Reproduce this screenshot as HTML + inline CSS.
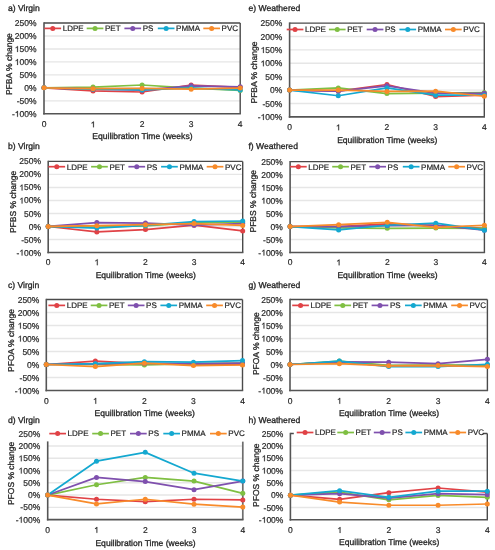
<!DOCTYPE html>
<html><head><meta charset="utf-8"><style>
html,body{margin:0;padding:0;background:#fff;width:495px;height:550px;overflow:hidden;position:relative}
svg text{text-rendering:geometricPrecision;font-family:"Liberation Sans", sans-serif;fill:#262626;stroke:#262626;stroke-width:0.2px}
</style></head><body>
<svg width="495" height="550" viewBox="0 0 495 550" style="position:absolute;left:0;top:0;will-change:transform;filter:blur(0.3px)">
<text x="7.90" y="10.76" font-size="8.6" style="stroke-width:0.3px">a) Virgin</text>
<text transform="translate(11.50,64.10) rotate(-90)" x="0" y="0" text-anchor="middle" font-size="8.5" style="stroke-width:0.3px">PFBA % change</text>
<line x1="44.00" y1="35.97" x2="240.20" y2="35.97" stroke="#e6e6e6" stroke-width="1.4"/>
<line x1="44.00" y1="48.94" x2="240.20" y2="48.94" stroke="#e6e6e6" stroke-width="1.4"/>
<line x1="44.00" y1="61.91" x2="240.20" y2="61.91" stroke="#e6e6e6" stroke-width="1.4"/>
<line x1="44.00" y1="74.89" x2="240.20" y2="74.89" stroke="#e6e6e6" stroke-width="1.4"/>
<line x1="44.00" y1="87.86" x2="240.20" y2="87.86" stroke="#e6e6e6" stroke-width="1.4"/>
<line x1="44.00" y1="100.83" x2="240.20" y2="100.83" stroke="#e6e6e6" stroke-width="1.4"/>
<text x="14.76" y="26.04" font-size="8.5">250%</text>
<text x="14.76" y="39.01" font-size="8.5">200%</text>
<path transform="translate(14.76,51.99) scale(0.00415,-0.00415)" d="M763,0 L583,0 L583,1130 C540,1090 482,1050 412,1010 C342,970 279,940 223,920 L223,1090 C324,1138 412,1195 487,1262 C562,1329 615,1380 646,1409 L763,1409 Z" fill="#262626" stroke="#262626" stroke-width="0.2" vector-effect="non-scaling-stroke"/>
<text x="19.49" y="51.99" font-size="8.5">50%</text>
<path transform="translate(14.76,64.96) scale(0.00415,-0.00415)" d="M763,0 L583,0 L583,1130 C540,1090 482,1050 412,1010 C342,970 279,940 223,920 L223,1090 C324,1138 412,1195 487,1262 C562,1329 615,1380 646,1409 L763,1409 Z" fill="#262626" stroke="#262626" stroke-width="0.2" vector-effect="non-scaling-stroke"/>
<text x="19.49" y="64.96" font-size="8.5">00%</text>
<text x="19.49" y="77.93" font-size="8.5">50%</text>
<text x="24.21" y="90.90" font-size="8.5">0%</text>
<text x="16.66" y="103.87" font-size="8.5">-50%</text>
<text x="11.93" y="116.84" font-size="8.5">-</text>
<path transform="translate(14.76,116.84) scale(0.00415,-0.00415)" d="M763,0 L583,0 L583,1130 C540,1090 482,1050 412,1010 C342,970 279,940 223,920 L223,1090 C324,1138 412,1195 487,1262 C562,1329 615,1380 646,1409 L763,1409 Z" fill="#262626" stroke="#262626" stroke-width="0.2" vector-effect="non-scaling-stroke"/>
<text x="19.49" y="116.84" font-size="8.5">00%</text>
<line x1="44.00" y1="23.00" x2="240.20" y2="23.00" stroke="#4a4a4a" stroke-width="1.4"/>
<line x1="240.20" y1="23.00" x2="240.20" y2="113.80" stroke="#4a4a4a" stroke-width="1.4"/>
<line x1="44.00" y1="22.30" x2="44.00" y2="114.60" stroke="#555" stroke-width="1.6"/>
<line x1="43.20" y1="113.80" x2="240.90" y2="113.80" stroke="#555" stroke-width="1.6"/>
<polyline points="44.00,87.86 93.05,90.97 142.10,92.01 191.15,85.00 240.20,87.34" fill="none" stroke="#e04246" stroke-width="1.7" stroke-linejoin="round"/>
<circle cx="44.00" cy="87.86" r="2.5" fill="#e04246"/>
<circle cx="93.05" cy="90.97" r="2.5" fill="#e04246"/>
<circle cx="142.10" cy="92.01" r="2.5" fill="#e04246"/>
<circle cx="191.15" cy="85.00" r="2.5" fill="#e04246"/>
<circle cx="240.20" cy="87.34" r="2.5" fill="#e04246"/>
<polyline points="44.00,87.86 93.05,87.08 142.10,85.00 191.15,88.12 240.20,90.45" fill="none" stroke="#7fbf42" stroke-width="1.7" stroke-linejoin="round"/>
<circle cx="44.00" cy="87.86" r="2.5" fill="#7fbf42"/>
<circle cx="93.05" cy="87.08" r="2.5" fill="#7fbf42"/>
<circle cx="142.10" cy="85.00" r="2.5" fill="#7fbf42"/>
<circle cx="191.15" cy="88.12" r="2.5" fill="#7fbf42"/>
<circle cx="240.20" cy="90.45" r="2.5" fill="#7fbf42"/>
<polyline points="44.00,87.86 93.05,88.89 142.10,90.19 191.15,85.78 240.20,86.82" fill="none" stroke="#7f50ae" stroke-width="1.7" stroke-linejoin="round"/>
<circle cx="44.00" cy="87.86" r="2.5" fill="#7f50ae"/>
<circle cx="93.05" cy="88.89" r="2.5" fill="#7f50ae"/>
<circle cx="142.10" cy="90.19" r="2.5" fill="#7f50ae"/>
<circle cx="191.15" cy="85.78" r="2.5" fill="#7f50ae"/>
<circle cx="240.20" cy="86.82" r="2.5" fill="#7f50ae"/>
<polyline points="44.00,87.86 93.05,89.15 142.10,89.93 191.15,88.12 240.20,89.93" fill="none" stroke="#14a8d0" stroke-width="1.7" stroke-linejoin="round"/>
<circle cx="44.00" cy="87.86" r="2.5" fill="#14a8d0"/>
<circle cx="93.05" cy="89.15" r="2.5" fill="#14a8d0"/>
<circle cx="142.10" cy="89.93" r="2.5" fill="#14a8d0"/>
<circle cx="191.15" cy="88.12" r="2.5" fill="#14a8d0"/>
<circle cx="240.20" cy="89.93" r="2.5" fill="#14a8d0"/>
<polyline points="44.00,87.86 93.05,88.64 142.10,88.38 191.15,89.15 240.20,88.12" fill="none" stroke="#f88b2a" stroke-width="1.7" stroke-linejoin="round"/>
<circle cx="44.00" cy="87.86" r="2.5" fill="#f88b2a"/>
<circle cx="93.05" cy="88.64" r="2.5" fill="#f88b2a"/>
<circle cx="142.10" cy="88.38" r="2.5" fill="#f88b2a"/>
<circle cx="191.15" cy="89.15" r="2.5" fill="#f88b2a"/>
<circle cx="240.20" cy="88.12" r="2.5" fill="#f88b2a"/>
<text x="41.64" y="127.34" font-size="8.5">0</text>
<path transform="translate(90.69,127.34) scale(0.00415,-0.00415)" d="M763,0 L583,0 L583,1130 C540,1090 482,1050 412,1010 C342,970 279,940 223,920 L223,1090 C324,1138 412,1195 487,1262 C562,1329 615,1380 646,1409 L763,1409 Z" fill="#262626" stroke="#262626" stroke-width="0.2" vector-effect="non-scaling-stroke"/>
<text x="139.74" y="127.34" font-size="8.5">2</text>
<text x="188.79" y="127.34" font-size="8.5">3</text>
<text x="237.84" y="127.34" font-size="8.5">4</text>
<text x="142.40" y="139.12" text-anchor="middle" font-size="8.55" style="stroke-width:0.3px">Equilibration Time (weeks)</text>
<line x1="44.40" y1="28.40" x2="61.10" y2="28.40" stroke="#e04246" stroke-width="1.7"/>
<circle cx="52.75" cy="28.40" r="2.5" fill="#e04246"/>
<text x="62.70" y="31.26" font-size="8.0">LDPE</text>
<line x1="86.70" y1="28.40" x2="103.40" y2="28.40" stroke="#7fbf42" stroke-width="1.7"/>
<circle cx="95.05" cy="28.40" r="2.5" fill="#7fbf42"/>
<text x="105.00" y="31.26" font-size="8.0">PET</text>
<line x1="124.40" y1="28.40" x2="141.10" y2="28.40" stroke="#7f50ae" stroke-width="1.7"/>
<circle cx="132.75" cy="28.40" r="2.5" fill="#7f50ae"/>
<text x="142.70" y="31.26" font-size="8.0">PS</text>
<line x1="157.80" y1="28.40" x2="174.50" y2="28.40" stroke="#14a8d0" stroke-width="1.7"/>
<circle cx="166.15" cy="28.40" r="2.5" fill="#14a8d0"/>
<text x="176.10" y="31.26" font-size="8.0">PMMA</text>
<line x1="203.30" y1="28.40" x2="220.00" y2="28.40" stroke="#f88b2a" stroke-width="1.7"/>
<circle cx="211.65" cy="28.40" r="2.5" fill="#f88b2a"/>
<text x="221.60" y="31.26" font-size="8.0">PVC</text>
<text x="7.90" y="149.06" font-size="8.6" style="stroke-width:0.3px">b) Virgin</text>
<text transform="translate(16.40,201.90) rotate(-90)" x="0" y="0" text-anchor="middle" font-size="8.5" style="stroke-width:0.3px">PFBS % change</text>
<line x1="48.20" y1="174.41" x2="242.70" y2="174.41" stroke="#e6e6e6" stroke-width="1.4"/>
<line x1="48.20" y1="187.43" x2="242.70" y2="187.43" stroke="#e6e6e6" stroke-width="1.4"/>
<line x1="48.20" y1="200.44" x2="242.70" y2="200.44" stroke="#e6e6e6" stroke-width="1.4"/>
<line x1="48.20" y1="213.46" x2="242.70" y2="213.46" stroke="#e6e6e6" stroke-width="1.4"/>
<line x1="48.20" y1="226.47" x2="242.70" y2="226.47" stroke="#e6e6e6" stroke-width="1.4"/>
<line x1="48.20" y1="239.49" x2="242.70" y2="239.49" stroke="#e6e6e6" stroke-width="1.4"/>
<text x="19.26" y="164.44" font-size="8.5">250%</text>
<text x="19.26" y="177.46" font-size="8.5">200%</text>
<path transform="translate(19.26,190.47) scale(0.00415,-0.00415)" d="M763,0 L583,0 L583,1130 C540,1090 482,1050 412,1010 C342,970 279,940 223,920 L223,1090 C324,1138 412,1195 487,1262 C562,1329 615,1380 646,1409 L763,1409 Z" fill="#262626" stroke="#262626" stroke-width="0.2" vector-effect="non-scaling-stroke"/>
<text x="23.99" y="190.47" font-size="8.5">50%</text>
<path transform="translate(19.26,203.49) scale(0.00415,-0.00415)" d="M763,0 L583,0 L583,1130 C540,1090 482,1050 412,1010 C342,970 279,940 223,920 L223,1090 C324,1138 412,1195 487,1262 C562,1329 615,1380 646,1409 L763,1409 Z" fill="#262626" stroke="#262626" stroke-width="0.2" vector-effect="non-scaling-stroke"/>
<text x="23.99" y="203.49" font-size="8.5">00%</text>
<text x="23.99" y="216.50" font-size="8.5">50%</text>
<text x="28.71" y="229.51" font-size="8.5">0%</text>
<text x="21.16" y="242.53" font-size="8.5">-50%</text>
<text x="16.43" y="255.54" font-size="8.5">-</text>
<path transform="translate(19.26,255.54) scale(0.00415,-0.00415)" d="M763,0 L583,0 L583,1130 C540,1090 482,1050 412,1010 C342,970 279,940 223,920 L223,1090 C324,1138 412,1195 487,1262 C562,1329 615,1380 646,1409 L763,1409 Z" fill="#262626" stroke="#262626" stroke-width="0.2" vector-effect="non-scaling-stroke"/>
<text x="23.99" y="255.54" font-size="8.5">00%</text>
<line x1="48.20" y1="161.40" x2="242.70" y2="161.40" stroke="#4a4a4a" stroke-width="1.4"/>
<line x1="242.70" y1="161.40" x2="242.70" y2="252.50" stroke="#4a4a4a" stroke-width="1.4"/>
<line x1="48.20" y1="160.70" x2="48.20" y2="253.30" stroke="#555" stroke-width="1.6"/>
<line x1="47.40" y1="252.50" x2="243.40" y2="252.50" stroke="#555" stroke-width="1.6"/>
<polyline points="48.20,226.47 96.83,231.94 145.45,229.59 194.07,225.17 242.70,230.90" fill="none" stroke="#e04246" stroke-width="1.7" stroke-linejoin="round"/>
<circle cx="48.20" cy="226.47" r="2.5" fill="#e04246"/>
<circle cx="96.83" cy="231.94" r="2.5" fill="#e04246"/>
<circle cx="145.45" cy="229.59" r="2.5" fill="#e04246"/>
<circle cx="194.07" cy="225.17" r="2.5" fill="#e04246"/>
<circle cx="242.70" cy="230.90" r="2.5" fill="#e04246"/>
<polyline points="48.20,226.47 96.83,226.99 145.45,225.95 194.07,222.57 242.70,222.05" fill="none" stroke="#7fbf42" stroke-width="1.7" stroke-linejoin="round"/>
<circle cx="48.20" cy="226.47" r="2.5" fill="#7fbf42"/>
<circle cx="96.83" cy="226.99" r="2.5" fill="#7fbf42"/>
<circle cx="145.45" cy="225.95" r="2.5" fill="#7fbf42"/>
<circle cx="194.07" cy="222.57" r="2.5" fill="#7fbf42"/>
<circle cx="242.70" cy="222.05" r="2.5" fill="#7fbf42"/>
<polyline points="48.20,226.47 96.83,222.57 145.45,223.09 194.07,225.17 242.70,223.61" fill="none" stroke="#7f50ae" stroke-width="1.7" stroke-linejoin="round"/>
<circle cx="48.20" cy="226.47" r="2.5" fill="#7f50ae"/>
<circle cx="96.83" cy="222.57" r="2.5" fill="#7f50ae"/>
<circle cx="145.45" cy="223.09" r="2.5" fill="#7f50ae"/>
<circle cx="194.07" cy="225.17" r="2.5" fill="#7f50ae"/>
<circle cx="242.70" cy="223.61" r="2.5" fill="#7f50ae"/>
<polyline points="48.20,226.47 96.83,228.03 145.45,225.43 194.07,221.53 242.70,221.01" fill="none" stroke="#14a8d0" stroke-width="1.7" stroke-linejoin="round"/>
<circle cx="48.20" cy="226.47" r="2.5" fill="#14a8d0"/>
<circle cx="96.83" cy="228.03" r="2.5" fill="#14a8d0"/>
<circle cx="145.45" cy="225.43" r="2.5" fill="#14a8d0"/>
<circle cx="194.07" cy="221.53" r="2.5" fill="#14a8d0"/>
<circle cx="242.70" cy="221.01" r="2.5" fill="#14a8d0"/>
<polyline points="48.20,226.47 96.83,225.69 145.45,224.65 194.07,223.61 242.70,225.43" fill="none" stroke="#f88b2a" stroke-width="1.7" stroke-linejoin="round"/>
<circle cx="48.20" cy="226.47" r="2.5" fill="#f88b2a"/>
<circle cx="96.83" cy="225.69" r="2.5" fill="#f88b2a"/>
<circle cx="145.45" cy="224.65" r="2.5" fill="#f88b2a"/>
<circle cx="194.07" cy="223.61" r="2.5" fill="#f88b2a"/>
<circle cx="242.70" cy="225.43" r="2.5" fill="#f88b2a"/>
<text x="45.84" y="265.14" font-size="8.5">0</text>
<path transform="translate(94.46,265.14) scale(0.00415,-0.00415)" d="M763,0 L583,0 L583,1130 C540,1090 482,1050 412,1010 C342,970 279,940 223,920 L223,1090 C324,1138 412,1195 487,1262 C562,1329 615,1380 646,1409 L763,1409 Z" fill="#262626" stroke="#262626" stroke-width="0.2" vector-effect="non-scaling-stroke"/>
<text x="143.09" y="265.14" font-size="8.5">2</text>
<text x="191.71" y="265.14" font-size="8.5">3</text>
<text x="240.34" y="265.14" font-size="8.5">4</text>
<text x="145.75" y="278.22" text-anchor="middle" font-size="8.55" style="stroke-width:0.3px">Equilibration Time (weeks)</text>
<line x1="48.40" y1="166.70" x2="65.10" y2="166.70" stroke="#e04246" stroke-width="1.7"/>
<circle cx="56.75" cy="166.70" r="2.5" fill="#e04246"/>
<text x="66.70" y="169.56" font-size="8.0">LDPE</text>
<line x1="91.10" y1="166.70" x2="107.80" y2="166.70" stroke="#7fbf42" stroke-width="1.7"/>
<circle cx="99.45" cy="166.70" r="2.5" fill="#7fbf42"/>
<text x="109.40" y="169.56" font-size="8.0">PET</text>
<line x1="128.40" y1="166.70" x2="145.10" y2="166.70" stroke="#7f50ae" stroke-width="1.7"/>
<circle cx="136.75" cy="166.70" r="2.5" fill="#7f50ae"/>
<text x="146.70" y="169.56" font-size="8.0">PS</text>
<line x1="161.10" y1="166.70" x2="177.80" y2="166.70" stroke="#14a8d0" stroke-width="1.7"/>
<circle cx="169.45" cy="166.70" r="2.5" fill="#14a8d0"/>
<text x="179.40" y="169.56" font-size="8.0">PMMA</text>
<line x1="206.70" y1="166.70" x2="223.40" y2="166.70" stroke="#f88b2a" stroke-width="1.7"/>
<circle cx="215.05" cy="166.70" r="2.5" fill="#f88b2a"/>
<text x="225.00" y="169.56" font-size="8.0">PVC</text>
<text x="7.90" y="287.56" font-size="8.6" style="stroke-width:0.3px">c) Virgin</text>
<text transform="translate(14.00,340.50) rotate(-90)" x="0" y="0" text-anchor="middle" font-size="8.5" style="stroke-width:0.3px">PFOA % change</text>
<line x1="46.30" y1="312.50" x2="242.50" y2="312.50" stroke="#e6e6e6" stroke-width="1.4"/>
<line x1="46.30" y1="325.50" x2="242.50" y2="325.50" stroke="#e6e6e6" stroke-width="1.4"/>
<line x1="46.30" y1="338.50" x2="242.50" y2="338.50" stroke="#e6e6e6" stroke-width="1.4"/>
<line x1="46.30" y1="351.50" x2="242.50" y2="351.50" stroke="#e6e6e6" stroke-width="1.4"/>
<line x1="46.30" y1="364.50" x2="242.50" y2="364.50" stroke="#e6e6e6" stroke-width="1.4"/>
<line x1="46.30" y1="377.50" x2="242.50" y2="377.50" stroke="#e6e6e6" stroke-width="1.4"/>
<text x="17.66" y="302.54" font-size="8.5">250%</text>
<text x="17.66" y="315.54" font-size="8.5">200%</text>
<path transform="translate(17.66,328.54) scale(0.00415,-0.00415)" d="M763,0 L583,0 L583,1130 C540,1090 482,1050 412,1010 C342,970 279,940 223,920 L223,1090 C324,1138 412,1195 487,1262 C562,1329 615,1380 646,1409 L763,1409 Z" fill="#262626" stroke="#262626" stroke-width="0.2" vector-effect="non-scaling-stroke"/>
<text x="22.39" y="328.54" font-size="8.5">50%</text>
<path transform="translate(17.66,341.54) scale(0.00415,-0.00415)" d="M763,0 L583,0 L583,1130 C540,1090 482,1050 412,1010 C342,970 279,940 223,920 L223,1090 C324,1138 412,1195 487,1262 C562,1329 615,1380 646,1409 L763,1409 Z" fill="#262626" stroke="#262626" stroke-width="0.2" vector-effect="non-scaling-stroke"/>
<text x="22.39" y="341.54" font-size="8.5">00%</text>
<text x="22.39" y="354.54" font-size="8.5">50%</text>
<text x="27.11" y="367.54" font-size="8.5">0%</text>
<text x="19.56" y="380.54" font-size="8.5">-50%</text>
<text x="14.83" y="393.54" font-size="8.5">-</text>
<path transform="translate(17.66,393.54) scale(0.00415,-0.00415)" d="M763,0 L583,0 L583,1130 C540,1090 482,1050 412,1010 C342,970 279,940 223,920 L223,1090 C324,1138 412,1195 487,1262 C562,1329 615,1380 646,1409 L763,1409 Z" fill="#262626" stroke="#262626" stroke-width="0.2" vector-effect="non-scaling-stroke"/>
<text x="22.39" y="393.54" font-size="8.5">00%</text>
<line x1="46.30" y1="299.50" x2="242.50" y2="299.50" stroke="#4a4a4a" stroke-width="1.4"/>
<line x1="242.50" y1="299.50" x2="242.50" y2="390.50" stroke="#4a4a4a" stroke-width="1.4"/>
<line x1="46.30" y1="298.80" x2="46.30" y2="391.30" stroke="#555" stroke-width="1.6"/>
<line x1="45.50" y1="390.50" x2="243.20" y2="390.50" stroke="#555" stroke-width="1.6"/>
<polyline points="46.30,364.50 95.35,361.12 144.40,363.72 193.45,364.50 242.50,364.50" fill="none" stroke="#e04246" stroke-width="1.7" stroke-linejoin="round"/>
<circle cx="46.30" cy="364.50" r="2.5" fill="#e04246"/>
<circle cx="95.35" cy="361.12" r="2.5" fill="#e04246"/>
<circle cx="144.40" cy="363.72" r="2.5" fill="#e04246"/>
<circle cx="193.45" cy="364.50" r="2.5" fill="#e04246"/>
<circle cx="242.50" cy="364.50" r="2.5" fill="#e04246"/>
<polyline points="46.30,364.50 95.35,364.50 144.40,365.02 193.45,363.72 242.50,363.20" fill="none" stroke="#7fbf42" stroke-width="1.7" stroke-linejoin="round"/>
<circle cx="46.30" cy="364.50" r="2.5" fill="#7fbf42"/>
<circle cx="95.35" cy="364.50" r="2.5" fill="#7fbf42"/>
<circle cx="144.40" cy="365.02" r="2.5" fill="#7fbf42"/>
<circle cx="193.45" cy="363.72" r="2.5" fill="#7fbf42"/>
<circle cx="242.50" cy="363.20" r="2.5" fill="#7fbf42"/>
<polyline points="46.30,364.50 95.35,363.98 144.40,363.46 193.45,363.72 242.50,363.20" fill="none" stroke="#7f50ae" stroke-width="1.7" stroke-linejoin="round"/>
<circle cx="46.30" cy="364.50" r="2.5" fill="#7f50ae"/>
<circle cx="95.35" cy="363.98" r="2.5" fill="#7f50ae"/>
<circle cx="144.40" cy="363.46" r="2.5" fill="#7f50ae"/>
<circle cx="193.45" cy="363.72" r="2.5" fill="#7f50ae"/>
<circle cx="242.50" cy="363.20" r="2.5" fill="#7f50ae"/>
<polyline points="46.30,364.50 95.35,363.72 144.40,361.64 193.45,362.16 242.50,360.60" fill="none" stroke="#14a8d0" stroke-width="1.7" stroke-linejoin="round"/>
<circle cx="46.30" cy="364.50" r="2.5" fill="#14a8d0"/>
<circle cx="95.35" cy="363.72" r="2.5" fill="#14a8d0"/>
<circle cx="144.40" cy="361.64" r="2.5" fill="#14a8d0"/>
<circle cx="193.45" cy="362.16" r="2.5" fill="#14a8d0"/>
<circle cx="242.50" cy="360.60" r="2.5" fill="#14a8d0"/>
<polyline points="46.30,364.50 95.35,366.58 144.40,363.20 193.45,365.54 242.50,365.02" fill="none" stroke="#f88b2a" stroke-width="1.7" stroke-linejoin="round"/>
<circle cx="46.30" cy="364.50" r="2.5" fill="#f88b2a"/>
<circle cx="95.35" cy="366.58" r="2.5" fill="#f88b2a"/>
<circle cx="144.40" cy="363.20" r="2.5" fill="#f88b2a"/>
<circle cx="193.45" cy="365.54" r="2.5" fill="#f88b2a"/>
<circle cx="242.50" cy="365.02" r="2.5" fill="#f88b2a"/>
<text x="43.94" y="403.74" font-size="8.5">0</text>
<path transform="translate(92.99,403.74) scale(0.00415,-0.00415)" d="M763,0 L583,0 L583,1130 C540,1090 482,1050 412,1010 C342,970 279,940 223,920 L223,1090 C324,1138 412,1195 487,1262 C562,1329 615,1380 646,1409 L763,1409 Z" fill="#262626" stroke="#262626" stroke-width="0.2" vector-effect="non-scaling-stroke"/>
<text x="142.04" y="403.74" font-size="8.5">2</text>
<text x="191.09" y="403.74" font-size="8.5">3</text>
<text x="240.14" y="403.74" font-size="8.5">4</text>
<text x="144.70" y="416.22" text-anchor="middle" font-size="8.55" style="stroke-width:0.3px">Equilibration Time (weeks)</text>
<line x1="48.40" y1="305.40" x2="65.10" y2="305.40" stroke="#e04246" stroke-width="1.7"/>
<circle cx="56.75" cy="305.40" r="2.5" fill="#e04246"/>
<text x="66.70" y="308.26" font-size="8.0">LDPE</text>
<line x1="90.70" y1="305.40" x2="107.40" y2="305.40" stroke="#7fbf42" stroke-width="1.7"/>
<circle cx="99.05" cy="305.40" r="2.5" fill="#7fbf42"/>
<text x="109.00" y="308.26" font-size="8.0">PET</text>
<line x1="127.80" y1="305.40" x2="144.50" y2="305.40" stroke="#7f50ae" stroke-width="1.7"/>
<circle cx="136.15" cy="305.40" r="2.5" fill="#7f50ae"/>
<text x="146.10" y="308.26" font-size="8.0">PS</text>
<line x1="160.40" y1="305.40" x2="177.10" y2="305.40" stroke="#14a8d0" stroke-width="1.7"/>
<circle cx="168.75" cy="305.40" r="2.5" fill="#14a8d0"/>
<text x="178.70" y="308.26" font-size="8.0">PMMA</text>
<line x1="206.20" y1="305.40" x2="222.90" y2="305.40" stroke="#f88b2a" stroke-width="1.7"/>
<circle cx="214.55" cy="305.40" r="2.5" fill="#f88b2a"/>
<text x="224.50" y="308.26" font-size="8.0">PVC</text>
<text x="7.90" y="423.06" font-size="8.6" style="stroke-width:0.3px">d) Virgin</text>
<text transform="translate(14.00,473.40) rotate(-90)" x="0" y="0" text-anchor="middle" font-size="8.5" style="stroke-width:0.3px">PFOS % change</text>
<line x1="47.70" y1="445.97" x2="242.80" y2="445.97" stroke="#e6e6e6" stroke-width="1.4"/>
<line x1="47.70" y1="458.24" x2="242.80" y2="458.24" stroke="#e6e6e6" stroke-width="1.4"/>
<line x1="47.70" y1="470.51" x2="242.80" y2="470.51" stroke="#e6e6e6" stroke-width="1.4"/>
<line x1="47.70" y1="482.79" x2="242.80" y2="482.79" stroke="#e6e6e6" stroke-width="1.4"/>
<line x1="47.70" y1="495.06" x2="242.80" y2="495.06" stroke="#e6e6e6" stroke-width="1.4"/>
<line x1="47.70" y1="507.33" x2="242.80" y2="507.33" stroke="#e6e6e6" stroke-width="1.4"/>
<text x="18.46" y="436.74" font-size="8.5">250%</text>
<text x="18.46" y="449.01" font-size="8.5">200%</text>
<path transform="translate(18.46,461.29) scale(0.00415,-0.00415)" d="M763,0 L583,0 L583,1130 C540,1090 482,1050 412,1010 C342,970 279,940 223,920 L223,1090 C324,1138 412,1195 487,1262 C562,1329 615,1380 646,1409 L763,1409 Z" fill="#262626" stroke="#262626" stroke-width="0.2" vector-effect="non-scaling-stroke"/>
<text x="23.19" y="461.29" font-size="8.5">50%</text>
<path transform="translate(18.46,473.56) scale(0.00415,-0.00415)" d="M763,0 L583,0 L583,1130 C540,1090 482,1050 412,1010 C342,970 279,940 223,920 L223,1090 C324,1138 412,1195 487,1262 C562,1329 615,1380 646,1409 L763,1409 Z" fill="#262626" stroke="#262626" stroke-width="0.2" vector-effect="non-scaling-stroke"/>
<text x="23.19" y="473.56" font-size="8.5">00%</text>
<text x="23.19" y="485.83" font-size="8.5">50%</text>
<text x="27.91" y="498.10" font-size="8.5">0%</text>
<text x="20.36" y="510.37" font-size="8.5">-50%</text>
<text x="15.63" y="522.64" font-size="8.5">-</text>
<path transform="translate(18.46,522.64) scale(0.00415,-0.00415)" d="M763,0 L583,0 L583,1130 C540,1090 482,1050 412,1010 C342,970 279,940 223,920 L223,1090 C324,1138 412,1195 487,1262 C562,1329 615,1380 646,1409 L763,1409 Z" fill="#262626" stroke="#262626" stroke-width="0.2" vector-effect="non-scaling-stroke"/>
<text x="23.19" y="522.64" font-size="8.5">00%</text>
<line x1="242.80" y1="441.40" x2="242.80" y2="519.60" stroke="#6e6e6e" stroke-width="1.7"/>
<line x1="47.70" y1="440.70" x2="47.70" y2="520.40" stroke="#555" stroke-width="1.6"/>
<line x1="46.90" y1="519.60" x2="243.50" y2="519.60" stroke="#555" stroke-width="1.6"/>
<polyline points="47.70,495.06 96.48,499.23 145.25,501.68 194.03,499.23 242.80,499.97" fill="none" stroke="#e04246" stroke-width="1.7" stroke-linejoin="round"/>
<circle cx="47.70" cy="495.06" r="2.5" fill="#e04246"/>
<circle cx="96.48" cy="499.23" r="2.5" fill="#e04246"/>
<circle cx="145.25" cy="501.68" r="2.5" fill="#e04246"/>
<circle cx="194.03" cy="499.23" r="2.5" fill="#e04246"/>
<circle cx="242.80" cy="499.97" r="2.5" fill="#e04246"/>
<polyline points="47.70,495.06 96.48,484.75 145.25,477.39 194.03,481.07 242.80,493.34" fill="none" stroke="#7fbf42" stroke-width="1.7" stroke-linejoin="round"/>
<circle cx="47.70" cy="495.06" r="2.5" fill="#7fbf42"/>
<circle cx="96.48" cy="484.75" r="2.5" fill="#7fbf42"/>
<circle cx="145.25" cy="477.39" r="2.5" fill="#7fbf42"/>
<circle cx="194.03" cy="481.07" r="2.5" fill="#7fbf42"/>
<circle cx="242.80" cy="493.34" r="2.5" fill="#7fbf42"/>
<polyline points="47.70,495.06 96.48,477.39 145.25,481.56 194.03,489.66 242.80,481.07" fill="none" stroke="#7f50ae" stroke-width="1.7" stroke-linejoin="round"/>
<circle cx="47.70" cy="495.06" r="2.5" fill="#7f50ae"/>
<circle cx="96.48" cy="477.39" r="2.5" fill="#7f50ae"/>
<circle cx="145.25" cy="481.56" r="2.5" fill="#7f50ae"/>
<circle cx="194.03" cy="489.66" r="2.5" fill="#7f50ae"/>
<circle cx="242.80" cy="481.07" r="2.5" fill="#7f50ae"/>
<polyline points="47.70,495.06 96.48,461.19 145.25,452.35 194.03,473.21 242.80,481.07" fill="none" stroke="#14a8d0" stroke-width="1.7" stroke-linejoin="round"/>
<circle cx="47.70" cy="495.06" r="2.5" fill="#14a8d0"/>
<circle cx="96.48" cy="461.19" r="2.5" fill="#14a8d0"/>
<circle cx="145.25" cy="452.35" r="2.5" fill="#14a8d0"/>
<circle cx="194.03" cy="473.21" r="2.5" fill="#14a8d0"/>
<circle cx="242.80" cy="481.07" r="2.5" fill="#14a8d0"/>
<polyline points="47.70,495.06 96.48,503.89 145.25,499.23 194.03,504.14 242.80,507.08" fill="none" stroke="#f88b2a" stroke-width="1.7" stroke-linejoin="round"/>
<circle cx="47.70" cy="495.06" r="2.5" fill="#f88b2a"/>
<circle cx="96.48" cy="503.89" r="2.5" fill="#f88b2a"/>
<circle cx="145.25" cy="499.23" r="2.5" fill="#f88b2a"/>
<circle cx="194.03" cy="504.14" r="2.5" fill="#f88b2a"/>
<circle cx="242.80" cy="507.08" r="2.5" fill="#f88b2a"/>
<text x="45.34" y="532.84" font-size="8.5">0</text>
<path transform="translate(94.11,532.84) scale(0.00415,-0.00415)" d="M763,0 L583,0 L583,1130 C540,1090 482,1050 412,1010 C342,970 279,940 223,920 L223,1090 C324,1138 412,1195 487,1262 C562,1329 615,1380 646,1409 L763,1409 Z" fill="#262626" stroke="#262626" stroke-width="0.2" vector-effect="non-scaling-stroke"/>
<text x="142.89" y="532.84" font-size="8.5">2</text>
<text x="191.66" y="532.84" font-size="8.5">3</text>
<text x="240.44" y="532.84" font-size="8.5">4</text>
<text x="145.55" y="545.82" text-anchor="middle" font-size="8.55" style="stroke-width:0.3px">Equilibration Time (weeks)</text>
<rect x="45.30" y="425.60" width="199.50" height="15.80" fill="#fff"/>
<line x1="49.30" y1="433.60" x2="66.00" y2="433.60" stroke="#e04246" stroke-width="1.7"/>
<circle cx="57.65" cy="433.60" r="2.5" fill="#e04246"/>
<text x="67.60" y="436.46" font-size="8.0">LDPE</text>
<line x1="92.20" y1="433.60" x2="108.90" y2="433.60" stroke="#7fbf42" stroke-width="1.7"/>
<circle cx="100.55" cy="433.60" r="2.5" fill="#7fbf42"/>
<text x="110.50" y="436.46" font-size="8.0">PET</text>
<line x1="130.00" y1="433.60" x2="146.70" y2="433.60" stroke="#7f50ae" stroke-width="1.7"/>
<circle cx="138.35" cy="433.60" r="2.5" fill="#7f50ae"/>
<text x="148.30" y="436.46" font-size="8.0">PS</text>
<line x1="163.30" y1="433.60" x2="180.00" y2="433.60" stroke="#14a8d0" stroke-width="1.7"/>
<circle cx="171.65" cy="433.60" r="2.5" fill="#14a8d0"/>
<text x="181.60" y="436.46" font-size="8.0">PMMA</text>
<line x1="210.00" y1="433.60" x2="226.70" y2="433.60" stroke="#f88b2a" stroke-width="1.7"/>
<circle cx="218.35" cy="433.60" r="2.5" fill="#f88b2a"/>
<text x="228.30" y="436.46" font-size="8.0">PVC</text>
<text x="248.40" y="10.76" font-size="8.6" style="stroke-width:0.3px">e) Weathered</text>
<text transform="translate(256.70,72.55) rotate(-90)" x="0" y="0" text-anchor="middle" font-size="8.5" style="stroke-width:0.3px">PFBA % change</text>
<line x1="289.60" y1="36.50" x2="484.30" y2="36.50" stroke="#e6e6e6" stroke-width="1.4"/>
<line x1="289.60" y1="49.90" x2="484.30" y2="49.90" stroke="#e6e6e6" stroke-width="1.4"/>
<line x1="289.60" y1="63.30" x2="484.30" y2="63.30" stroke="#e6e6e6" stroke-width="1.4"/>
<line x1="289.60" y1="76.70" x2="484.30" y2="76.70" stroke="#e6e6e6" stroke-width="1.4"/>
<line x1="289.60" y1="90.10" x2="484.30" y2="90.10" stroke="#e6e6e6" stroke-width="1.4"/>
<line x1="289.60" y1="103.50" x2="484.30" y2="103.50" stroke="#e6e6e6" stroke-width="1.4"/>
<text x="260.56" y="26.14" font-size="8.5">250%</text>
<text x="260.56" y="39.54" font-size="8.5">200%</text>
<path transform="translate(260.56,52.94) scale(0.00415,-0.00415)" d="M763,0 L583,0 L583,1130 C540,1090 482,1050 412,1010 C342,970 279,940 223,920 L223,1090 C324,1138 412,1195 487,1262 C562,1329 615,1380 646,1409 L763,1409 Z" fill="#262626" stroke="#262626" stroke-width="0.2" vector-effect="non-scaling-stroke"/>
<text x="265.29" y="52.94" font-size="8.5">50%</text>
<path transform="translate(260.56,66.34) scale(0.00415,-0.00415)" d="M763,0 L583,0 L583,1130 C540,1090 482,1050 412,1010 C342,970 279,940 223,920 L223,1090 C324,1138 412,1195 487,1262 C562,1329 615,1380 646,1409 L763,1409 Z" fill="#262626" stroke="#262626" stroke-width="0.2" vector-effect="non-scaling-stroke"/>
<text x="265.29" y="66.34" font-size="8.5">00%</text>
<text x="265.29" y="79.74" font-size="8.5">50%</text>
<text x="270.01" y="93.14" font-size="8.5">0%</text>
<text x="262.46" y="106.54" font-size="8.5">-50%</text>
<text x="257.73" y="119.94" font-size="8.5">-</text>
<path transform="translate(260.56,119.94) scale(0.00415,-0.00415)" d="M763,0 L583,0 L583,1130 C540,1090 482,1050 412,1010 C342,970 279,940 223,920 L223,1090 C324,1138 412,1195 487,1262 C562,1329 615,1380 646,1409 L763,1409 Z" fill="#262626" stroke="#262626" stroke-width="0.2" vector-effect="non-scaling-stroke"/>
<text x="265.29" y="119.94" font-size="8.5">00%</text>
<line x1="289.60" y1="23.10" x2="484.30" y2="23.10" stroke="#4a4a4a" stroke-width="1.4"/>
<line x1="484.30" y1="23.10" x2="484.30" y2="116.90" stroke="#4a4a4a" stroke-width="1.4"/>
<line x1="289.60" y1="22.40" x2="289.60" y2="117.70" stroke="#555" stroke-width="1.6"/>
<line x1="288.80" y1="116.90" x2="485.00" y2="116.90" stroke="#555" stroke-width="1.6"/>
<polyline points="289.60,90.10 338.28,91.17 386.95,84.47 435.62,96.53 484.30,95.19" fill="none" stroke="#e04246" stroke-width="1.7" stroke-linejoin="round"/>
<circle cx="289.60" cy="90.10" r="2.5" fill="#e04246"/>
<circle cx="338.28" cy="91.17" r="2.5" fill="#e04246"/>
<circle cx="386.95" cy="84.47" r="2.5" fill="#e04246"/>
<circle cx="435.62" cy="96.53" r="2.5" fill="#e04246"/>
<circle cx="484.30" cy="95.19" r="2.5" fill="#e04246"/>
<polyline points="289.60,90.10 338.28,87.96 386.95,93.58 435.62,93.05 484.30,92.51" fill="none" stroke="#7fbf42" stroke-width="1.7" stroke-linejoin="round"/>
<circle cx="289.60" cy="90.10" r="2.5" fill="#7fbf42"/>
<circle cx="338.28" cy="87.96" r="2.5" fill="#7fbf42"/>
<circle cx="386.95" cy="93.58" r="2.5" fill="#7fbf42"/>
<circle cx="435.62" cy="93.05" r="2.5" fill="#7fbf42"/>
<circle cx="484.30" cy="92.51" r="2.5" fill="#7fbf42"/>
<polyline points="289.60,90.10 338.28,91.17 386.95,85.81 435.62,93.05 484.30,93.32" fill="none" stroke="#7f50ae" stroke-width="1.7" stroke-linejoin="round"/>
<circle cx="289.60" cy="90.10" r="2.5" fill="#7f50ae"/>
<circle cx="338.28" cy="91.17" r="2.5" fill="#7f50ae"/>
<circle cx="386.95" cy="85.81" r="2.5" fill="#7f50ae"/>
<circle cx="435.62" cy="93.05" r="2.5" fill="#7f50ae"/>
<circle cx="484.30" cy="93.32" r="2.5" fill="#7f50ae"/>
<polyline points="289.60,90.10 338.28,95.73 386.95,87.96 435.62,95.19 484.30,95.19" fill="none" stroke="#14a8d0" stroke-width="1.7" stroke-linejoin="round"/>
<circle cx="289.60" cy="90.10" r="2.5" fill="#14a8d0"/>
<circle cx="338.28" cy="95.73" r="2.5" fill="#14a8d0"/>
<circle cx="386.95" cy="87.96" r="2.5" fill="#14a8d0"/>
<circle cx="435.62" cy="95.19" r="2.5" fill="#14a8d0"/>
<circle cx="484.30" cy="95.19" r="2.5" fill="#14a8d0"/>
<polyline points="289.60,90.10 338.28,90.10 386.95,91.44 435.62,91.17 484.30,96.26" fill="none" stroke="#f88b2a" stroke-width="1.7" stroke-linejoin="round"/>
<circle cx="289.60" cy="90.10" r="2.5" fill="#f88b2a"/>
<circle cx="338.28" cy="90.10" r="2.5" fill="#f88b2a"/>
<circle cx="386.95" cy="91.44" r="2.5" fill="#f88b2a"/>
<circle cx="435.62" cy="91.17" r="2.5" fill="#f88b2a"/>
<circle cx="484.30" cy="96.26" r="2.5" fill="#f88b2a"/>
<text x="287.24" y="130.24" font-size="8.5">0</text>
<path transform="translate(335.91,130.24) scale(0.00415,-0.00415)" d="M763,0 L583,0 L583,1130 C540,1090 482,1050 412,1010 C342,970 279,940 223,920 L223,1090 C324,1138 412,1195 487,1262 C562,1329 615,1380 646,1409 L763,1409 Z" fill="#262626" stroke="#262626" stroke-width="0.2" vector-effect="non-scaling-stroke"/>
<text x="384.59" y="130.24" font-size="8.5">2</text>
<text x="433.26" y="130.24" font-size="8.5">3</text>
<text x="481.94" y="130.24" font-size="8.5">4</text>
<text x="387.25" y="142.72" text-anchor="middle" font-size="8.55" style="stroke-width:0.3px">Equilibration Time (weeks)</text>
<line x1="286.70" y1="29.50" x2="303.40" y2="29.50" stroke="#e04246" stroke-width="1.7"/>
<circle cx="295.05" cy="29.50" r="2.5" fill="#e04246"/>
<text x="305.00" y="32.36" font-size="8.0">LDPE</text>
<line x1="328.90" y1="29.50" x2="345.60" y2="29.50" stroke="#7fbf42" stroke-width="1.7"/>
<circle cx="337.25" cy="29.50" r="2.5" fill="#7fbf42"/>
<text x="347.20" y="32.36" font-size="8.0">PET</text>
<line x1="366.70" y1="29.50" x2="383.40" y2="29.50" stroke="#7f50ae" stroke-width="1.7"/>
<circle cx="375.05" cy="29.50" r="2.5" fill="#7f50ae"/>
<text x="385.00" y="32.36" font-size="8.0">PS</text>
<line x1="399.40" y1="29.50" x2="416.10" y2="29.50" stroke="#14a8d0" stroke-width="1.7"/>
<circle cx="407.75" cy="29.50" r="2.5" fill="#14a8d0"/>
<text x="417.70" y="32.36" font-size="8.0">PMMA</text>
<line x1="445.00" y1="29.50" x2="461.70" y2="29.50" stroke="#f88b2a" stroke-width="1.7"/>
<circle cx="453.35" cy="29.50" r="2.5" fill="#f88b2a"/>
<text x="463.30" y="32.36" font-size="8.0">PVC</text>
<text x="248.40" y="149.06" font-size="8.6" style="stroke-width:0.3px">f) Weathered</text>
<text transform="translate(255.90,201.30) rotate(-90)" x="0" y="0" text-anchor="middle" font-size="8.5" style="stroke-width:0.3px">PFBS % change</text>
<line x1="290.10" y1="174.59" x2="484.40" y2="174.59" stroke="#e6e6e6" stroke-width="1.4"/>
<line x1="290.10" y1="187.57" x2="484.40" y2="187.57" stroke="#e6e6e6" stroke-width="1.4"/>
<line x1="290.10" y1="200.56" x2="484.40" y2="200.56" stroke="#e6e6e6" stroke-width="1.4"/>
<line x1="290.10" y1="213.54" x2="484.40" y2="213.54" stroke="#e6e6e6" stroke-width="1.4"/>
<line x1="290.10" y1="226.53" x2="484.40" y2="226.53" stroke="#e6e6e6" stroke-width="1.4"/>
<line x1="290.10" y1="239.51" x2="484.40" y2="239.51" stroke="#e6e6e6" stroke-width="1.4"/>
<text x="261.16" y="164.64" font-size="8.5">250%</text>
<text x="261.16" y="177.63" font-size="8.5">200%</text>
<path transform="translate(261.16,190.61) scale(0.00415,-0.00415)" d="M763,0 L583,0 L583,1130 C540,1090 482,1050 412,1010 C342,970 279,940 223,920 L223,1090 C324,1138 412,1195 487,1262 C562,1329 615,1380 646,1409 L763,1409 Z" fill="#262626" stroke="#262626" stroke-width="0.2" vector-effect="non-scaling-stroke"/>
<text x="265.89" y="190.61" font-size="8.5">50%</text>
<path transform="translate(261.16,203.60) scale(0.00415,-0.00415)" d="M763,0 L583,0 L583,1130 C540,1090 482,1050 412,1010 C342,970 279,940 223,920 L223,1090 C324,1138 412,1195 487,1262 C562,1329 615,1380 646,1409 L763,1409 Z" fill="#262626" stroke="#262626" stroke-width="0.2" vector-effect="non-scaling-stroke"/>
<text x="265.89" y="203.60" font-size="8.5">00%</text>
<text x="265.89" y="216.59" font-size="8.5">50%</text>
<text x="270.61" y="229.57" font-size="8.5">0%</text>
<text x="263.06" y="242.56" font-size="8.5">-50%</text>
<text x="258.33" y="255.54" font-size="8.5">-</text>
<path transform="translate(261.16,255.54) scale(0.00415,-0.00415)" d="M763,0 L583,0 L583,1130 C540,1090 482,1050 412,1010 C342,970 279,940 223,920 L223,1090 C324,1138 412,1195 487,1262 C562,1329 615,1380 646,1409 L763,1409 Z" fill="#262626" stroke="#262626" stroke-width="0.2" vector-effect="non-scaling-stroke"/>
<text x="265.89" y="255.54" font-size="8.5">00%</text>
<line x1="290.10" y1="161.60" x2="484.40" y2="161.60" stroke="#4a4a4a" stroke-width="1.4"/>
<line x1="484.40" y1="161.60" x2="484.40" y2="252.50" stroke="#4a4a4a" stroke-width="1.4"/>
<line x1="290.10" y1="160.90" x2="290.10" y2="253.30" stroke="#555" stroke-width="1.6"/>
<line x1="289.30" y1="252.50" x2="485.10" y2="252.50" stroke="#555" stroke-width="1.6"/>
<polyline points="290.10,226.53 338.68,226.53 387.25,223.93 435.82,225.23 484.40,228.35" fill="none" stroke="#e04246" stroke-width="1.7" stroke-linejoin="round"/>
<circle cx="290.10" cy="226.53" r="2.5" fill="#e04246"/>
<circle cx="338.68" cy="226.53" r="2.5" fill="#e04246"/>
<circle cx="387.25" cy="223.93" r="2.5" fill="#e04246"/>
<circle cx="435.82" cy="225.23" r="2.5" fill="#e04246"/>
<circle cx="484.40" cy="228.35" r="2.5" fill="#e04246"/>
<polyline points="290.10,226.53 338.68,227.83 387.25,228.35 435.82,228.09 484.40,228.35" fill="none" stroke="#7fbf42" stroke-width="1.7" stroke-linejoin="round"/>
<circle cx="290.10" cy="226.53" r="2.5" fill="#7fbf42"/>
<circle cx="338.68" cy="227.83" r="2.5" fill="#7fbf42"/>
<circle cx="387.25" cy="228.35" r="2.5" fill="#7fbf42"/>
<circle cx="435.82" cy="228.09" r="2.5" fill="#7fbf42"/>
<circle cx="484.40" cy="228.35" r="2.5" fill="#7fbf42"/>
<polyline points="290.10,226.53 338.68,226.53 387.25,225.75 435.82,225.23 484.40,230.16" fill="none" stroke="#7f50ae" stroke-width="1.7" stroke-linejoin="round"/>
<circle cx="290.10" cy="226.53" r="2.5" fill="#7f50ae"/>
<circle cx="338.68" cy="226.53" r="2.5" fill="#7f50ae"/>
<circle cx="387.25" cy="225.75" r="2.5" fill="#7f50ae"/>
<circle cx="435.82" cy="225.23" r="2.5" fill="#7f50ae"/>
<circle cx="484.40" cy="230.16" r="2.5" fill="#7f50ae"/>
<polyline points="290.10,226.53 338.68,229.90 387.25,225.23 435.82,223.15 484.40,230.16" fill="none" stroke="#14a8d0" stroke-width="1.7" stroke-linejoin="round"/>
<circle cx="290.10" cy="226.53" r="2.5" fill="#14a8d0"/>
<circle cx="338.68" cy="229.90" r="2.5" fill="#14a8d0"/>
<circle cx="387.25" cy="225.23" r="2.5" fill="#14a8d0"/>
<circle cx="435.82" cy="223.15" r="2.5" fill="#14a8d0"/>
<circle cx="484.40" cy="230.16" r="2.5" fill="#14a8d0"/>
<polyline points="290.10,226.53 338.68,224.71 387.25,222.37 435.82,227.31 484.40,225.23" fill="none" stroke="#f88b2a" stroke-width="1.7" stroke-linejoin="round"/>
<circle cx="290.10" cy="226.53" r="2.5" fill="#f88b2a"/>
<circle cx="338.68" cy="224.71" r="2.5" fill="#f88b2a"/>
<circle cx="387.25" cy="222.37" r="2.5" fill="#f88b2a"/>
<circle cx="435.82" cy="227.31" r="2.5" fill="#f88b2a"/>
<circle cx="484.40" cy="225.23" r="2.5" fill="#f88b2a"/>
<text x="287.74" y="265.34" font-size="8.5">0</text>
<path transform="translate(336.31,265.34) scale(0.00415,-0.00415)" d="M763,0 L583,0 L583,1130 C540,1090 482,1050 412,1010 C342,970 279,940 223,920 L223,1090 C324,1138 412,1195 487,1262 C562,1329 615,1380 646,1409 L763,1409 Z" fill="#262626" stroke="#262626" stroke-width="0.2" vector-effect="non-scaling-stroke"/>
<text x="384.89" y="265.34" font-size="8.5">2</text>
<text x="433.46" y="265.34" font-size="8.5">3</text>
<text x="482.04" y="265.34" font-size="8.5">4</text>
<text x="387.55" y="277.92" text-anchor="middle" font-size="8.55" style="stroke-width:0.3px">Equilibration Time (weeks)</text>
<line x1="290.00" y1="166.70" x2="306.70" y2="166.70" stroke="#e04246" stroke-width="1.7"/>
<circle cx="298.35" cy="166.70" r="2.5" fill="#e04246"/>
<text x="308.30" y="169.56" font-size="8.0">LDPE</text>
<line x1="332.20" y1="166.70" x2="348.90" y2="166.70" stroke="#7fbf42" stroke-width="1.7"/>
<circle cx="340.55" cy="166.70" r="2.5" fill="#7fbf42"/>
<text x="350.50" y="169.56" font-size="8.0">PET</text>
<line x1="369.30" y1="166.70" x2="386.00" y2="166.70" stroke="#7f50ae" stroke-width="1.7"/>
<circle cx="377.65" cy="166.70" r="2.5" fill="#7f50ae"/>
<text x="387.60" y="169.56" font-size="8.0">PS</text>
<line x1="402.80" y1="166.70" x2="419.50" y2="166.70" stroke="#14a8d0" stroke-width="1.7"/>
<circle cx="411.15" cy="166.70" r="2.5" fill="#14a8d0"/>
<text x="421.10" y="169.56" font-size="8.0">PMMA</text>
<line x1="448.30" y1="166.70" x2="465.00" y2="166.70" stroke="#f88b2a" stroke-width="1.7"/>
<circle cx="456.65" cy="166.70" r="2.5" fill="#f88b2a"/>
<text x="466.60" y="169.56" font-size="8.0">PVC</text>
<text x="248.40" y="287.56" font-size="8.6" style="stroke-width:0.3px">g) Weathered</text>
<text transform="translate(258.70,343.70) rotate(-90)" x="0" y="0" text-anchor="middle" font-size="8.5" style="stroke-width:0.3px">PFOA % change</text>
<line x1="290.00" y1="312.50" x2="487.40" y2="312.50" stroke="#e6e6e6" stroke-width="1.4"/>
<line x1="290.00" y1="325.50" x2="487.40" y2="325.50" stroke="#e6e6e6" stroke-width="1.4"/>
<line x1="290.00" y1="338.50" x2="487.40" y2="338.50" stroke="#e6e6e6" stroke-width="1.4"/>
<line x1="290.00" y1="351.50" x2="487.40" y2="351.50" stroke="#e6e6e6" stroke-width="1.4"/>
<line x1="290.00" y1="364.50" x2="487.40" y2="364.50" stroke="#e6e6e6" stroke-width="1.4"/>
<line x1="290.00" y1="377.50" x2="487.40" y2="377.50" stroke="#e6e6e6" stroke-width="1.4"/>
<text x="261.16" y="302.54" font-size="8.5">250%</text>
<text x="261.16" y="315.54" font-size="8.5">200%</text>
<path transform="translate(261.16,328.54) scale(0.00415,-0.00415)" d="M763,0 L583,0 L583,1130 C540,1090 482,1050 412,1010 C342,970 279,940 223,920 L223,1090 C324,1138 412,1195 487,1262 C562,1329 615,1380 646,1409 L763,1409 Z" fill="#262626" stroke="#262626" stroke-width="0.2" vector-effect="non-scaling-stroke"/>
<text x="265.89" y="328.54" font-size="8.5">50%</text>
<path transform="translate(261.16,341.54) scale(0.00415,-0.00415)" d="M763,0 L583,0 L583,1130 C540,1090 482,1050 412,1010 C342,970 279,940 223,920 L223,1090 C324,1138 412,1195 487,1262 C562,1329 615,1380 646,1409 L763,1409 Z" fill="#262626" stroke="#262626" stroke-width="0.2" vector-effect="non-scaling-stroke"/>
<text x="265.89" y="341.54" font-size="8.5">00%</text>
<text x="265.89" y="354.54" font-size="8.5">50%</text>
<text x="270.61" y="367.54" font-size="8.5">0%</text>
<text x="263.06" y="380.54" font-size="8.5">-50%</text>
<text x="258.33" y="393.54" font-size="8.5">-</text>
<path transform="translate(261.16,393.54) scale(0.00415,-0.00415)" d="M763,0 L583,0 L583,1130 C540,1090 482,1050 412,1010 C342,970 279,940 223,920 L223,1090 C324,1138 412,1195 487,1262 C562,1329 615,1380 646,1409 L763,1409 Z" fill="#262626" stroke="#262626" stroke-width="0.2" vector-effect="non-scaling-stroke"/>
<text x="265.89" y="393.54" font-size="8.5">00%</text>
<line x1="290.00" y1="299.50" x2="487.40" y2="299.50" stroke="#4a4a4a" stroke-width="1.4"/>
<line x1="487.40" y1="299.50" x2="487.40" y2="390.50" stroke="#4a4a4a" stroke-width="1.4"/>
<line x1="290.00" y1="298.80" x2="290.00" y2="391.30" stroke="#555" stroke-width="1.6"/>
<line x1="289.20" y1="390.50" x2="488.10" y2="390.50" stroke="#555" stroke-width="1.6"/>
<polyline points="290.00,364.50 339.35,361.90 388.70,365.80 438.05,365.28 487.40,365.80" fill="none" stroke="#e04246" stroke-width="1.7" stroke-linejoin="round"/>
<circle cx="290.00" cy="364.50" r="2.5" fill="#e04246"/>
<circle cx="339.35" cy="361.90" r="2.5" fill="#e04246"/>
<circle cx="388.70" cy="365.80" r="2.5" fill="#e04246"/>
<circle cx="438.05" cy="365.28" r="2.5" fill="#e04246"/>
<circle cx="487.40" cy="365.80" r="2.5" fill="#e04246"/>
<polyline points="290.00,364.50 339.35,361.12 388.70,365.28 438.05,365.02 487.40,365.02" fill="none" stroke="#7fbf42" stroke-width="1.7" stroke-linejoin="round"/>
<circle cx="290.00" cy="364.50" r="2.5" fill="#7fbf42"/>
<circle cx="339.35" cy="361.12" r="2.5" fill="#7fbf42"/>
<circle cx="388.70" cy="365.28" r="2.5" fill="#7fbf42"/>
<circle cx="438.05" cy="365.02" r="2.5" fill="#7fbf42"/>
<circle cx="487.40" cy="365.02" r="2.5" fill="#7fbf42"/>
<polyline points="290.00,364.50 339.35,361.90 388.70,362.16 438.05,363.72 487.40,359.30" fill="none" stroke="#7f50ae" stroke-width="1.7" stroke-linejoin="round"/>
<circle cx="290.00" cy="364.50" r="2.5" fill="#7f50ae"/>
<circle cx="339.35" cy="361.90" r="2.5" fill="#7f50ae"/>
<circle cx="388.70" cy="362.16" r="2.5" fill="#7f50ae"/>
<circle cx="438.05" cy="363.72" r="2.5" fill="#7f50ae"/>
<circle cx="487.40" cy="359.30" r="2.5" fill="#7f50ae"/>
<polyline points="290.00,364.50 339.35,361.12 388.70,366.58 438.05,366.58 487.40,364.24" fill="none" stroke="#14a8d0" stroke-width="1.7" stroke-linejoin="round"/>
<circle cx="290.00" cy="364.50" r="2.5" fill="#14a8d0"/>
<circle cx="339.35" cy="361.12" r="2.5" fill="#14a8d0"/>
<circle cx="388.70" cy="366.58" r="2.5" fill="#14a8d0"/>
<circle cx="438.05" cy="366.58" r="2.5" fill="#14a8d0"/>
<circle cx="487.40" cy="364.24" r="2.5" fill="#14a8d0"/>
<polyline points="290.00,364.50 339.35,363.72 388.70,365.80 438.05,365.54 487.40,366.58" fill="none" stroke="#f88b2a" stroke-width="1.7" stroke-linejoin="round"/>
<circle cx="290.00" cy="364.50" r="2.5" fill="#f88b2a"/>
<circle cx="339.35" cy="363.72" r="2.5" fill="#f88b2a"/>
<circle cx="388.70" cy="365.80" r="2.5" fill="#f88b2a"/>
<circle cx="438.05" cy="365.54" r="2.5" fill="#f88b2a"/>
<circle cx="487.40" cy="366.58" r="2.5" fill="#f88b2a"/>
<text x="287.64" y="403.74" font-size="8.5">0</text>
<path transform="translate(336.99,403.74) scale(0.00415,-0.00415)" d="M763,0 L583,0 L583,1130 C540,1090 482,1050 412,1010 C342,970 279,940 223,920 L223,1090 C324,1138 412,1195 487,1262 C562,1329 615,1380 646,1409 L763,1409 Z" fill="#262626" stroke="#262626" stroke-width="0.2" vector-effect="non-scaling-stroke"/>
<text x="386.34" y="403.74" font-size="8.5">2</text>
<text x="435.69" y="403.74" font-size="8.5">3</text>
<text x="485.04" y="403.74" font-size="8.5">4</text>
<text x="389.00" y="416.12" text-anchor="middle" font-size="8.55" style="stroke-width:0.3px">Equilibration Time (weeks)</text>
<line x1="292.20" y1="305.40" x2="308.90" y2="305.40" stroke="#e04246" stroke-width="1.7"/>
<circle cx="300.55" cy="305.40" r="2.5" fill="#e04246"/>
<text x="310.50" y="308.26" font-size="8.0">LDPE</text>
<line x1="334.40" y1="305.40" x2="351.10" y2="305.40" stroke="#7fbf42" stroke-width="1.7"/>
<circle cx="342.75" cy="305.40" r="2.5" fill="#7fbf42"/>
<text x="352.70" y="308.26" font-size="8.0">PET</text>
<line x1="371.60" y1="305.40" x2="388.30" y2="305.40" stroke="#7f50ae" stroke-width="1.7"/>
<circle cx="379.95" cy="305.40" r="2.5" fill="#7f50ae"/>
<text x="389.90" y="308.26" font-size="8.0">PS</text>
<line x1="405.00" y1="305.40" x2="421.70" y2="305.40" stroke="#14a8d0" stroke-width="1.7"/>
<circle cx="413.35" cy="305.40" r="2.5" fill="#14a8d0"/>
<text x="423.30" y="308.26" font-size="8.0">PMMA</text>
<line x1="451.20" y1="305.40" x2="467.90" y2="305.40" stroke="#f88b2a" stroke-width="1.7"/>
<circle cx="459.55" cy="305.40" r="2.5" fill="#f88b2a"/>
<text x="469.50" y="308.26" font-size="8.0">PVC</text>
<text x="248.40" y="423.06" font-size="8.6" style="stroke-width:0.3px">h) Weathered</text>
<text transform="translate(258.70,475.30) rotate(-90)" x="0" y="0" text-anchor="middle" font-size="8.5" style="stroke-width:0.3px">PFOS % change</text>
<line x1="290.40" y1="445.83" x2="487.30" y2="445.83" stroke="#e6e6e6" stroke-width="1.4"/>
<line x1="290.40" y1="458.16" x2="487.30" y2="458.16" stroke="#e6e6e6" stroke-width="1.4"/>
<line x1="290.40" y1="470.49" x2="487.30" y2="470.49" stroke="#e6e6e6" stroke-width="1.4"/>
<line x1="290.40" y1="482.81" x2="487.30" y2="482.81" stroke="#e6e6e6" stroke-width="1.4"/>
<line x1="290.40" y1="495.14" x2="487.30" y2="495.14" stroke="#e6e6e6" stroke-width="1.4"/>
<line x1="290.40" y1="507.47" x2="487.30" y2="507.47" stroke="#e6e6e6" stroke-width="1.4"/>
<text x="261.66" y="436.54" font-size="8.5">250%</text>
<text x="261.66" y="448.87" font-size="8.5">200%</text>
<path transform="translate(261.66,461.20) scale(0.00415,-0.00415)" d="M763,0 L583,0 L583,1130 C540,1090 482,1050 412,1010 C342,970 279,940 223,920 L223,1090 C324,1138 412,1195 487,1262 C562,1329 615,1380 646,1409 L763,1409 Z" fill="#262626" stroke="#262626" stroke-width="0.2" vector-effect="non-scaling-stroke"/>
<text x="266.39" y="461.20" font-size="8.5">50%</text>
<path transform="translate(261.66,473.53) scale(0.00415,-0.00415)" d="M763,0 L583,0 L583,1130 C540,1090 482,1050 412,1010 C342,970 279,940 223,920 L223,1090 C324,1138 412,1195 487,1262 C562,1329 615,1380 646,1409 L763,1409 Z" fill="#262626" stroke="#262626" stroke-width="0.2" vector-effect="non-scaling-stroke"/>
<text x="266.39" y="473.53" font-size="8.5">00%</text>
<text x="266.39" y="485.86" font-size="8.5">50%</text>
<text x="271.11" y="498.19" font-size="8.5">0%</text>
<text x="263.56" y="510.51" font-size="8.5">-50%</text>
<text x="258.83" y="522.84" font-size="8.5">-</text>
<path transform="translate(261.66,522.84) scale(0.00415,-0.00415)" d="M763,0 L583,0 L583,1130 C540,1090 482,1050 412,1010 C342,970 279,940 223,920 L223,1090 C324,1138 412,1195 487,1262 C562,1329 615,1380 646,1409 L763,1409 Z" fill="#262626" stroke="#262626" stroke-width="0.2" vector-effect="non-scaling-stroke"/>
<text x="266.39" y="522.84" font-size="8.5">00%</text>
<line x1="290.40" y1="433.50" x2="487.30" y2="433.50" stroke="#4a4a4a" stroke-width="1.4"/>
<line x1="487.30" y1="433.50" x2="487.30" y2="519.80" stroke="#4a4a4a" stroke-width="1.4"/>
<line x1="290.40" y1="432.80" x2="290.40" y2="520.60" stroke="#555" stroke-width="1.6"/>
<line x1="289.60" y1="519.80" x2="488.00" y2="519.80" stroke="#555" stroke-width="1.6"/>
<polyline points="290.40,495.14 339.62,499.33 388.85,492.68 438.07,487.99 487.30,492.18" fill="none" stroke="#e04246" stroke-width="1.7" stroke-linejoin="round"/>
<circle cx="290.40" cy="495.14" r="2.5" fill="#e04246"/>
<circle cx="339.62" cy="499.33" r="2.5" fill="#e04246"/>
<circle cx="388.85" cy="492.68" r="2.5" fill="#e04246"/>
<circle cx="438.07" cy="487.99" r="2.5" fill="#e04246"/>
<circle cx="487.30" cy="492.18" r="2.5" fill="#e04246"/>
<polyline points="290.40,495.14 339.62,492.18 388.85,499.83 438.07,495.39 487.30,497.36" fill="none" stroke="#7fbf42" stroke-width="1.7" stroke-linejoin="round"/>
<circle cx="290.40" cy="495.14" r="2.5" fill="#7fbf42"/>
<circle cx="339.62" cy="492.18" r="2.5" fill="#7fbf42"/>
<circle cx="388.85" cy="499.83" r="2.5" fill="#7fbf42"/>
<circle cx="438.07" cy="495.39" r="2.5" fill="#7fbf42"/>
<circle cx="487.30" cy="497.36" r="2.5" fill="#7fbf42"/>
<polyline points="290.40,495.14 339.62,493.66 388.85,498.10 438.07,493.66 487.30,494.65" fill="none" stroke="#7f50ae" stroke-width="1.7" stroke-linejoin="round"/>
<circle cx="290.40" cy="495.14" r="2.5" fill="#7f50ae"/>
<circle cx="339.62" cy="493.66" r="2.5" fill="#7f50ae"/>
<circle cx="388.85" cy="498.10" r="2.5" fill="#7f50ae"/>
<circle cx="438.07" cy="493.66" r="2.5" fill="#7f50ae"/>
<circle cx="487.30" cy="494.65" r="2.5" fill="#7f50ae"/>
<polyline points="290.40,495.14 339.62,490.70 388.85,497.36 438.07,491.20 487.30,491.20" fill="none" stroke="#14a8d0" stroke-width="1.7" stroke-linejoin="round"/>
<circle cx="290.40" cy="495.14" r="2.5" fill="#14a8d0"/>
<circle cx="339.62" cy="490.70" r="2.5" fill="#14a8d0"/>
<circle cx="388.85" cy="497.36" r="2.5" fill="#14a8d0"/>
<circle cx="438.07" cy="491.20" r="2.5" fill="#14a8d0"/>
<circle cx="487.30" cy="491.20" r="2.5" fill="#14a8d0"/>
<polyline points="290.40,495.14 339.62,502.05 388.85,505.25 438.07,505.25 487.30,504.02" fill="none" stroke="#f88b2a" stroke-width="1.7" stroke-linejoin="round"/>
<circle cx="290.40" cy="495.14" r="2.5" fill="#f88b2a"/>
<circle cx="339.62" cy="502.05" r="2.5" fill="#f88b2a"/>
<circle cx="388.85" cy="505.25" r="2.5" fill="#f88b2a"/>
<circle cx="438.07" cy="505.25" r="2.5" fill="#f88b2a"/>
<circle cx="487.30" cy="504.02" r="2.5" fill="#f88b2a"/>
<text x="288.04" y="532.94" font-size="8.5">0</text>
<path transform="translate(337.26,532.94) scale(0.00415,-0.00415)" d="M763,0 L583,0 L583,1130 C540,1090 482,1050 412,1010 C342,970 279,940 223,920 L223,1090 C324,1138 412,1195 487,1262 C562,1329 615,1380 646,1409 L763,1409 Z" fill="#262626" stroke="#262626" stroke-width="0.2" vector-effect="non-scaling-stroke"/>
<text x="386.49" y="532.94" font-size="8.5">2</text>
<text x="435.71" y="532.94" font-size="8.5">3</text>
<text x="484.94" y="532.94" font-size="8.5">4</text>
<text x="389.15" y="545.32" text-anchor="middle" font-size="8.55" style="stroke-width:0.3px">Equilibration Time (weeks)</text>
<rect x="293.8" y="426.50" width="189.00" height="11" fill="#fff"/>
<line x1="296.70" y1="432.50" x2="313.40" y2="432.50" stroke="#e04246" stroke-width="1.7"/>
<circle cx="305.05" cy="432.50" r="2.5" fill="#e04246"/>
<text x="315.00" y="435.36" font-size="8.0">LDPE</text>
<line x1="337.30" y1="432.50" x2="354.00" y2="432.50" stroke="#7fbf42" stroke-width="1.7"/>
<circle cx="345.65" cy="432.50" r="2.5" fill="#7fbf42"/>
<text x="355.60" y="435.36" font-size="8.0">PET</text>
<line x1="373.80" y1="432.50" x2="390.50" y2="432.50" stroke="#7f50ae" stroke-width="1.7"/>
<circle cx="382.15" cy="432.50" r="2.5" fill="#7f50ae"/>
<text x="392.10" y="435.36" font-size="8.0">PS</text>
<line x1="405.40" y1="432.50" x2="422.10" y2="432.50" stroke="#14a8d0" stroke-width="1.7"/>
<circle cx="413.75" cy="432.50" r="2.5" fill="#14a8d0"/>
<text x="423.70" y="435.36" font-size="8.0">PMMA</text>
<line x1="449.40" y1="432.50" x2="466.10" y2="432.50" stroke="#f88b2a" stroke-width="1.7"/>
<circle cx="457.75" cy="432.50" r="2.5" fill="#f88b2a"/>
<text x="467.70" y="435.36" font-size="8.0">PVC</text>
</svg>
</body></html>
